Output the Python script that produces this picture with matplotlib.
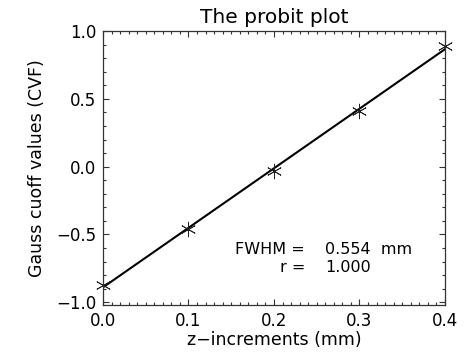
import numpy as np
import matplotlib
matplotlib.use("Agg")
import matplotlib.pyplot as plt
from matplotlib.ticker import MultipleLocator

# probit data
z_mm = [0.0, 0.1, 0.2, 0.3, 0.4]
cvf = [-0.87, -0.46, -0.03, 0.41, 0.89]
fwhm = 0.554
r_val = 1.000

plt.rcParams['font.family'] = ['DejaVu Sans']
fig = plt.figure(figsize=(4.74, 3.64), dpi=100)
ax = fig.add_axes([0.2173, 0.1621, 0.7215, 0.7527])

coef = np.polyfit(z_mm, cvf, 1)
xs = np.array([0.0, 0.4])
ax.plot(xs, np.polyval(coef, xs), color='black', lw=1.5)
ax.plot(z_mm, cvf, ls='none', marker=(6, 2, 0), ms=11, mew=0.6, color='#222222', clip_on=False)

ax.set_xlim(0, 0.4)
ax.set_ylim(-1.02, 1.0)
ax.xaxis.set_major_locator(MultipleLocator(0.1))
ax.xaxis.set_minor_locator(MultipleLocator(0.01))
ax.yaxis.set_major_locator(MultipleLocator(0.5))
ax.yaxis.set_minor_locator(MultipleLocator(0.1))
ax.tick_params(which='both', direction='in', top=True, right=True, labelsize=12, width=0.8, color='#333333', pad=5)
ax.tick_params(which='major', length=4.5)
ax.tick_params(which='minor', length=2.5)
for s in ax.spines.values():
    s.set_linewidth(0.9)
    s.set_color('#333333')
ax.xaxis.set_major_formatter(plt.FuncFormatter(lambda v, p: f"{v:.1f}"))
ax.yaxis.set_major_formatter(plt.FuncFormatter(lambda v, p: f"{v:.1f}".replace('-', '\u2212')))

ax.set_title("The probit plot", fontsize=14.5, pad=6)
ax.set_xlabel("z\u2212increments (mm)", fontsize=12.5, labelpad=1)
ax.set_ylabel("Gauss cuoff values (CVF)", fontsize=12.5, labelpad=7)

ax.text(0.2363, -0.612, "FWHM =", fontsize=11.5, ha='right', va='center')
ax.text(0.2597, -0.612, f"{fwhm:.3f}  mm", fontsize=11.5, ha='left', va='center')
ax.text(0.2363, -0.74, "r =", fontsize=11.5, ha='right', va='center')
ax.text(0.2597, -0.74, f"{r_val:.3f}", fontsize=11.5, ha='left', va='center')

fig.savefig("out.png", dpi=100)
